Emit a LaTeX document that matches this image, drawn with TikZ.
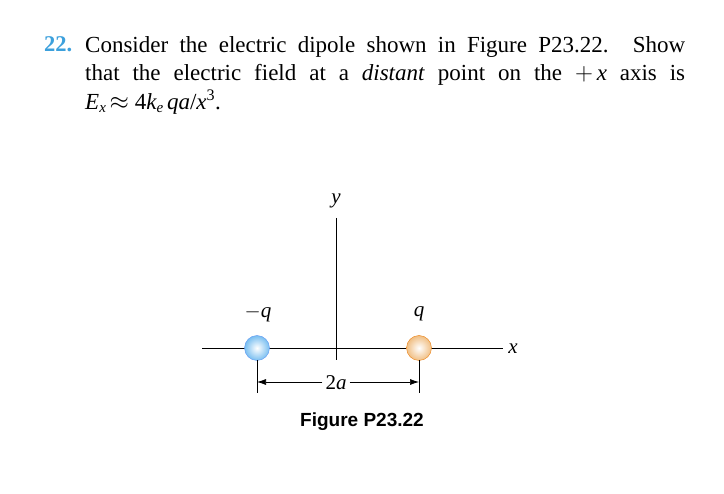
\documentclass[tikz,border=0pt]{standalone}
\usepackage{fontspec}
\setmainfont{Liberation Serif}
\newfontfamily\capfont{Liberation Sans}
\usetikzlibrary{arrows.meta}
\begin{document}
\begin{tikzpicture}[x=1pt,y=-1pt,
  ax/.style={line width=0.8pt},
  dim/.style={line width=0.7pt,-{Latex[length=9pt,width=6pt]}},
  lbl/.style={font=\fontsize{21}{24}\selectfont\itshape}]
\useasboundingbox (0,0) rectangle (724,494);
\definecolor{numblue}{RGB}{60,160,220}
\definecolor{ballblue}{RGB}{120,190,240}
\definecolor{ballorange}{RGB}{240,190,130}
\node[anchor=north west,inner sep=0,font=\fontsize{22.5}{28.5}\selectfont] (num) at (44,36) {\textcolor{numblue}{\textbf{22.}}};
\node[anchor=north west,inner sep=0,text width=600pt,align=justify,font=\fontsize{23}{28.5}\selectfont] (para) at (85,36)
{Consider the electric dipole shown in Figure P23.22. Show that the electric field at a \textit{distant} point on the $+$\,\textit{x} axis is \linebreak \textit{E\raisebox{-0.3ex}{\fontsize{15}{15}\selectfont x}}\,$\approx$ 4\textit{k\raisebox{-0.3ex}{\fontsize{15}{15}\selectfont e}\,qa}/\textit{x}\textsuperscript{3}.};
\coordinate (xl) at (202,348); \coordinate (xr) at (503,348);
\coordinate (yt) at (336,218); \coordinate (yb) at (336,360);
\draw[ax] (xl) -- (xr);
\draw[ax] (yt) -- (yb);
\node[lbl] (xlab) at (513,349) {x};
\node[lbl] (ylab) at (336,201) {y};
\shade[inner color=white, outer color=ballblue, draw=ballblue!80!blue] (257,348) circle (12.5);
\shade[inner color=white, outer color=ballorange, draw=orange!70!brown] (419,348) circle (12.5);
\node[lbl] (mq) at (258,314) {$-$q};
\node[lbl] (pq) at (419,314) {q};
\coordinate (t1a) at (257,360); \coordinate (t1b) at (257,393);
\coordinate (t2a) at (419,360); \coordinate (t2b) at (419,393);
\draw[line width=0.7pt] (t1a) -- (t1b);
\draw[line width=0.7pt] (t2a) -- (t2b);
\node[lbl,fill=white,inner sep=3pt,font=\fontsize{21}{24}\selectfont] (twoa) at (336,383) {2\textit{a}};
\coordinate (d1) at (257,382); \coordinate (d2) at (419,382);
\draw[dim] (twoa.west |- d1) -- (d1);
\draw[dim] (twoa.east |- d2) -- (d2);
\node[font=\capfont\bfseries\fontsize{19}{20}\selectfont] (cap) at (362,422) {Figure P23.22};
\end{tikzpicture}
\end{document}
